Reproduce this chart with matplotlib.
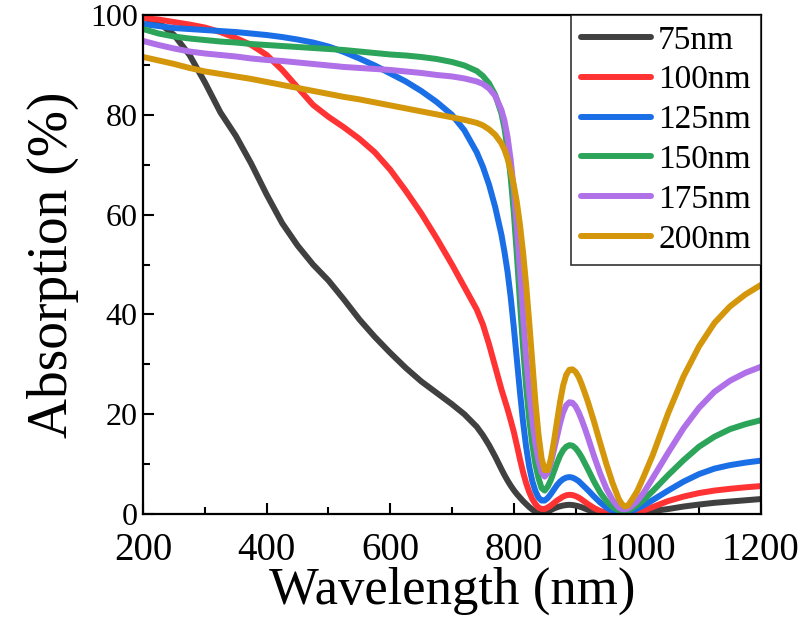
import matplotlib
matplotlib.use("Agg")
import matplotlib.pyplot as plt
from matplotlib.ticker import MultipleLocator

plt.rcParams['font.family'] = ['Liberation Serif', 'DejaVu Serif']

# wavelength grid (nm)
wl = [200, 225, 250, 275, 300, 325, 350, 375, 400, 425,
      450, 475, 500, 525, 550, 575, 600, 625, 650, 675,
      700, 720, 740, 750, 760, 770, 780, 785, 790, 795,
      800, 805, 810, 815, 820, 825, 830, 835, 840, 845,
      850, 855, 860, 865, 870, 875, 880, 885, 890, 895,
      900, 905, 910, 915, 920, 930, 940, 950, 960, 970,
      975, 980, 985, 990, 1000, 1010, 1025, 1050, 1075, 1100,
      1125, 1150, 1175, 1200]

a75 = [99.5, 98.5, 96, 92, 86.5, 80.5, 75.8, 70.2, 64, 58.3,
       53.8, 50, 46.8, 43, 39, 35.5, 32.3, 29.3, 26.6, 24.3,
       22, 20, 17.5, 15.8, 13.8, 11.5, 9, 7.8, 6.7, 5.7,
       4.8, 4.0, 3.3, 2.6, 2.0, 1.4, 0.9, 0.5, 0.3, 0.2,
       0.3, 0.5, 0.8, 1.1, 1.35, 1.55, 1.7, 1.8, 1.85, 1.8,
       1.7, 1.55, 1.35, 1.1, 0.85, 0.45, 0.15, 0.05, 0, 0,
       0, 0, 0.02, 0.08, 0.2, 0.35, 0.6, 1.0, 1.5, 1.9,
       2.25, 2.5, 2.75, 3.0]
a100 = [99.4, 99.1, 98.6, 98.1, 97.5, 96.6, 95.4, 94, 92, 89,
        85.5, 82, 79.6, 77.5, 75.2, 72.5, 69, 64.8, 60.3, 55.3,
        50, 45.5, 41, 38, 34, 29.5, 25, 23, 21, 18.8,
        16.5, 13.8, 11, 8.4, 6.2, 4.4, 3, 2.0, 1.3, 1.0,
        1.0, 1.3, 1.7, 2.2, 2.7, 3.1, 3.5, 3.75, 3.85, 3.8,
        3.6, 3.3, 2.9, 2.45, 2.0, 1.2, 0.6, 0.25, 0.05, 0,
        0, 0.02, 0.08, 0.15, 0.4, 0.7, 1.4, 2.6, 3.5, 4.2,
        4.7, 5.05, 5.35, 5.6]
a125 = [98.2, 97.8, 97.4, 97.2, 97, 96.8, 96.6, 96.3, 96, 95.6,
        95.1, 94.5, 93.7, 92.6, 91.3, 89.9, 88.3, 86.7, 84.8, 82.6,
        80, 76.9, 72.5, 69.6, 66, 61.5, 56, 52.5, 48.5, 43.5,
        37.5, 31, 24.5, 18.5, 13.5, 9.5, 6.6, 4.6, 3.3, 2.7,
        2.7, 3.2, 4.0, 4.9, 5.8, 6.5, 7.0, 7.3, 7.4, 7.3,
        7.0, 6.6, 6.0, 5.4, 4.8, 3.5, 2.3, 1.3, 0.6, 0.25,
        0.2, 0.25, 0.35, 0.55, 1.1, 1.7, 2.8, 4.7, 6.5, 8.0,
        9.1, 9.8, 10.3, 10.7]
a150 = [97.2, 96.3, 95.7, 95.3, 95, 94.7, 94.5, 94.2, 94, 93.8,
        93.6, 93.4, 93.2, 93.0, 92.7, 92.4, 92.1, 91.9, 91.6, 91.2,
        90.6, 89.9, 88.8, 87.8, 86.3, 84, 80.3, 77.3, 73, 67.5,
        60.5, 52, 42.5, 33.5, 25.5, 19, 14, 10, 7.2, 5.2,
        4.7, 5.5, 6.8, 8.5, 10.2, 11.7, 12.8, 13.5, 13.8, 13.7,
        13.2, 12.4, 11.4, 10.2, 9.0, 6.5, 4.3, 2.6, 1.4, 0.7,
        0.55, 0.55, 0.7, 1.0, 1.8, 2.8, 4.6, 7.8, 10.8, 13.5,
        15.5, 17, 18, 18.8]
a175 = [94.8, 94, 93.3, 92.7, 92.3, 92, 91.7, 91.3, 91, 90.8,
        90.5, 90.2, 89.9, 89.6, 89.4, 89.2, 89, 88.7, 88.4, 88,
        87.7, 87.3, 86.7, 86.2, 85.3, 83.8, 81, 78.8, 75.5, 71,
        65, 57.5, 49, 40, 31.5, 24.5, 18.8, 14.2, 10.8, 8.4,
        7.5, 8.3, 10.2, 12.8, 15.5, 18.2, 20.4, 21.8, 22.4, 22.3,
        21.6, 20.4, 18.9, 17.2, 15.4, 11.6, 8.1, 5.1, 2.8, 1.3,
        1.0, 0.95, 1.1, 1.5, 2.6, 4.2, 7.2, 12.3, 17.2, 21.3,
        24.5, 26.7, 28.3, 29.5]
a200 = [91.6, 90.9, 90.2, 89.4, 88.7, 88.2, 87.7, 87.2, 86.6, 86.0,
        85.4, 84.8, 84.2, 83.6, 83.1, 82.5, 81.9, 81.3, 80.7, 80.1,
        79.5, 79.0, 78.4, 77.9, 77.1, 76, 74.3, 73, 71.2, 68.8,
        66, 62.5, 58, 52.5, 46, 38.5, 30.5, 22.5, 16, 11.2,
        8.8, 8.8, 11, 14.5, 18.5, 22.5, 25.8, 27.9, 28.9, 29.0,
        28.5, 27.5, 26.0, 24.3, 22.5, 18.5, 14.2, 10, 6.2, 3.0,
        2.0, 1.5, 1.7, 2.6, 4.6, 7.4, 11.8, 20.2, 27.6, 33.6,
        38.3, 41.6, 44.0, 45.9]

labels = ['75nm', '100nm', '125nm', '150nm', '175nm', '200nm']
colors = ['#404040', '#ff3333', '#1a6ee6', '#2ca55a', '#b070e8', '#d4960a']
series = [a75, a100, a125, a150, a175, a200]

fig = plt.figure(figsize=(8, 6.28), dpi=100)
ax = fig.add_axes([0.179, 0.1815, 0.772, 0.7945])

for ys, col, lab in zip(series, colors, labels):
    ax.plot(wl, ys, color=col, lw=4.3, label=lab,
            solid_capstyle='round', solid_joinstyle='round')

ax.set_xlim(200, 1200)
ax.set_ylim(0, 100)
ax.xaxis.set_major_locator(MultipleLocator(200))
ax.xaxis.set_minor_locator(MultipleLocator(100))
ax.yaxis.set_major_locator(MultipleLocator(20))
ax.yaxis.set_minor_locator(MultipleLocator(10))
ax.tick_params(which='both', direction='in', top=False, right=False, width=1.5)
ax.tick_params(which='major', length=8)
ax.tick_params(which='minor', length=5)
ax.tick_params(axis='x', labelsize=28, pad=13)
ax.tick_params(axis='y', labelsize=23, pad=4)
for sp in ax.spines.values():
    sp.set_linewidth(1.6)

ax.set_xlabel('Wavelength (nm)', fontsize=38, labelpad=-2)
ax.set_ylabel('Absorption (%)', fontsize=40, labelpad=8)

leg = ax.legend(loc='upper right', fontsize=24, frameon=True, fancybox=False,
                borderaxespad=0, handlelength=2.1, handletextpad=0.2,
                labelspacing=0.28, borderpad=0.3)
leg.get_frame().set_edgecolor('black')
leg.get_frame().set_linewidth(1.2)

fig.savefig('out.png', dpi=100)
